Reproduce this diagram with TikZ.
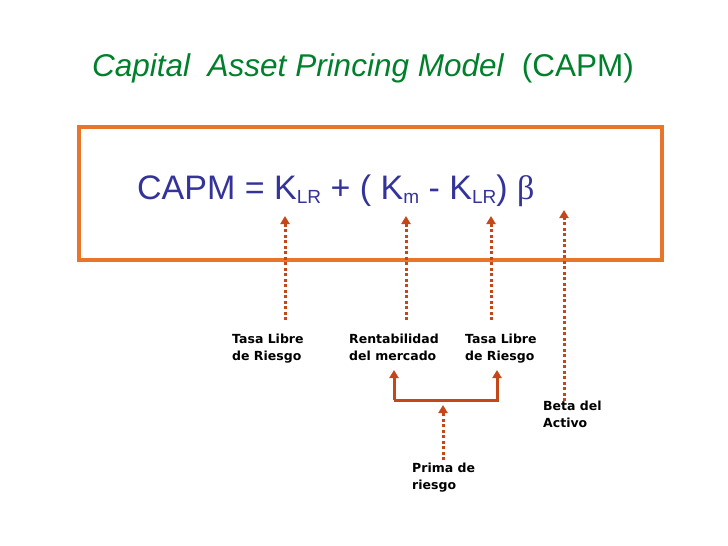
\documentclass[tikz,border=0pt]{standalone}
\usepackage{fontspec}
\setmainfont{Liberation Sans}
\newfontfamily\lblfont{DejaVu Sans}
\usetikzlibrary{arrows.meta}
\definecolor{boxor}{HTML}{E8752A}
\definecolor{arr}{HTML}{C4471A}
\definecolor{ttl}{HTML}{00802B}
\definecolor{frm}{HTML}{33339A}
\newcommand{\sbs}[1]{\raisebox{-0.25ex}{\fontsize{19}{20}\selectfont #1}}
\begin{document}
\begin{tikzpicture}[x=1pt,y=-1pt,
  dot/.style={arr,line width=3pt,dash pattern=on 3pt off 2.5pt,-{Triangle[length=8pt,width=9pt]}},
  solid/.style={arr,line width=3pt,-{Triangle[length=8pt,width=9pt]}},
  lbl/.style={font=\lblfont\bfseries\fontsize{12.5}{17}\selectfont,align=left,anchor=north west,inner sep=0pt}]
\useasboundingbox (0,0) rectangle (728,546);
\node[anchor=base west,inner sep=0pt,text=ttl,font=\fontsize{31.5}{36}\selectfont] (title) at (92,76) {\textit{Capital\ \ Asset Princing Model}\ \ (CAPM)};
\draw[boxor,line width=3.5pt] (79,127) rectangle (662,260);
\node[anchor=base west,inner sep=0pt,text=frm,font=\fontsize{34}{40}\selectfont] (f) at (137,199) {CAPM = K\sbs{LR} + ( K\sbs{m} - K\sbs{LR}) {\fontspec{Liberation Serif}β}};
\coordinate (t1) at (285,216); \coordinate (s1) at (285,320);
\coordinate (t2) at (406,216); \coordinate (s2) at (406,320);
\coordinate (t3) at (491,216); \coordinate (s3) at (491,320);
\coordinate (t4) at (564,210); \coordinate (s4) at (564,401);
\draw[dot] (s1) -- (t1);
\draw[dot] (s2) -- (t2);
\draw[dot] (s3) -- (t3);
\draw[dot] (s4) -- (t4);
\node[lbl] (l1) at (232,334) {Tasa Libre\\de Riesgo};
\node[lbl] (l2) at (349,334) {Rentabilidad\\del mercado};
\node[lbl] (l3) at (465,334) {Tasa Libre\\de Riesgo};
\node[lbl] (l4) at (543,401) {Beta del\\Activo};
\node[lbl] (l5) at (412,463) {Prima de\\riesgo};
\coordinate (b1) at (394,370); \coordinate (b2) at (497,370);
\draw[solid] (394,400) -- (b1);
\draw[solid] (394,400) -- (497,400) -- (b2);
\coordinate (pt) at (443,405); \coordinate (ps) at (443,460);
\draw[dot] (ps) -- (pt);
\end{tikzpicture}
\end{document}
